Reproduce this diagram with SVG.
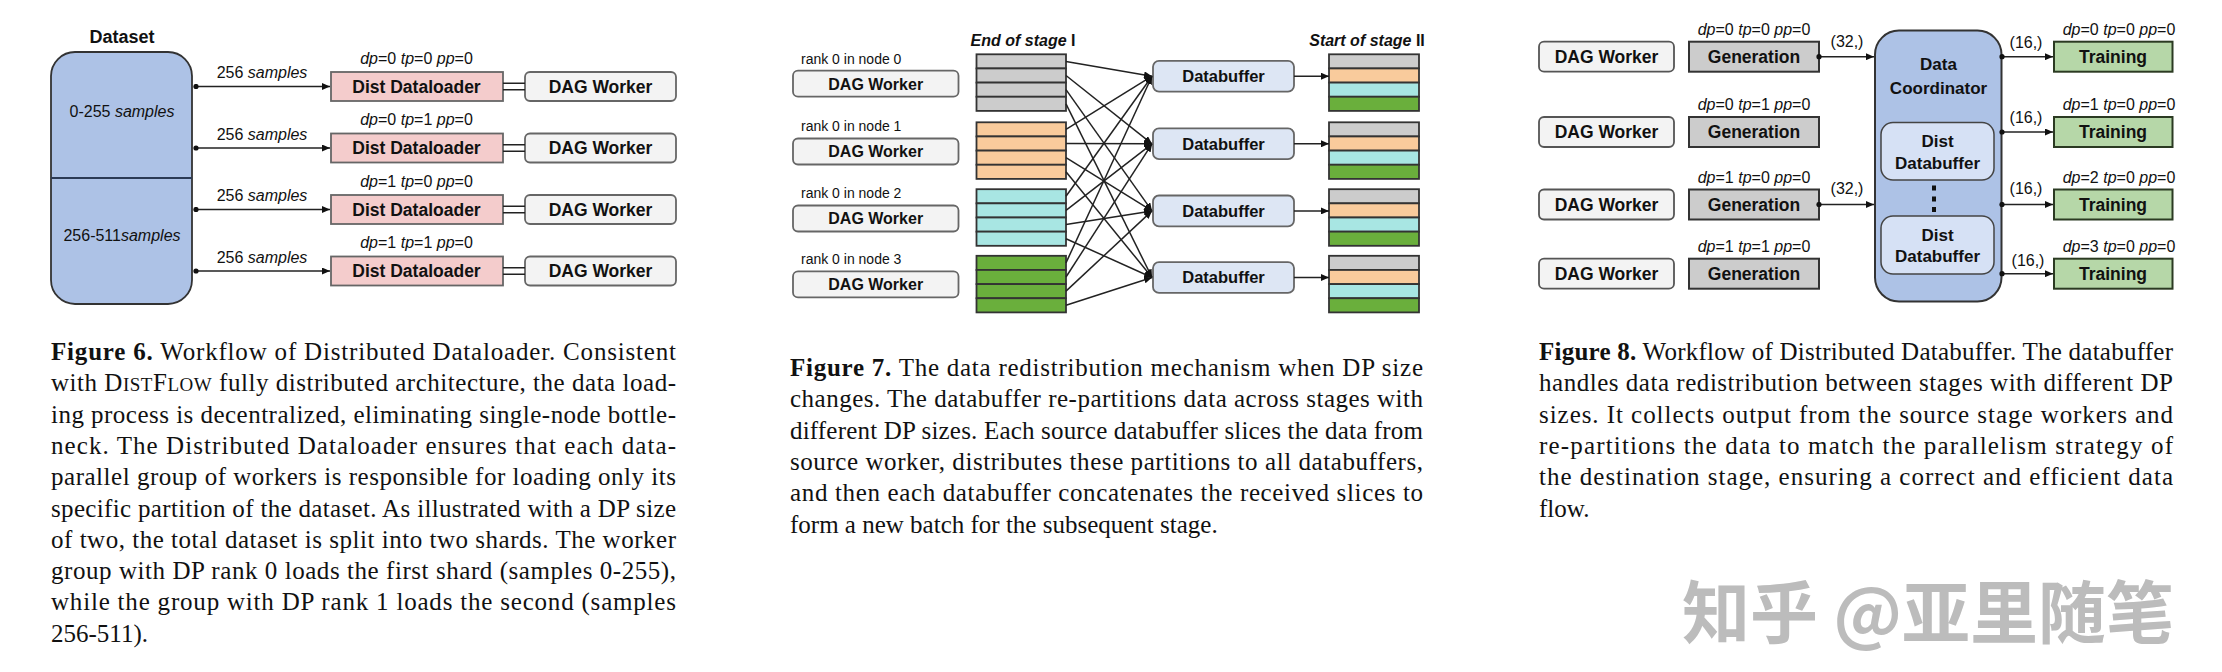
<svg xmlns="http://www.w3.org/2000/svg" width="2222" height="672" viewBox="0 0 2222 672">
<defs>
<style>
.s{font-family:"Liberation Sans",Arial,sans-serif;fill:#111}
.b{font-weight:bold}
.i{font-style:italic}
.cap{font-family:"Liberation Serif","Times New Roman",serif;font-size:25px;fill:#111}
.ln{stroke:#222;stroke-width:1.5;fill:none}
.box{stroke-width:1.8}
</style>
<marker id="ah" viewBox="0 0 8 7" refX="8" refY="3.5" markerWidth="8" markerHeight="7" markerUnits="userSpaceOnUse" orient="auto"><path d="M0,0 L8,3.5 L0,7 z" fill="#111"/></marker>
<marker id="dot" viewBox="0 0 6 6" refX="3" refY="3" markerWidth="6" markerHeight="6" markerUnits="userSpaceOnUse"><circle cx="3" cy="3" r="2.6" fill="#111"/></marker>
</defs>
<rect width="2222" height="672" fill="#fff"/>

<!-- ===== Figure 6 ===== -->
<g id="fig6">
<g id="dataset">
<text class="s b" x="122" y="43" font-size="18" text-anchor="middle">Dataset</text>
<rect x="51" y="52" width="141" height="252" rx="24" fill="#adc2e6" stroke="#333" stroke-width="1.8"/>
<line x1="51" y1="178" x2="192" y2="178" stroke="#2b3a55" stroke-width="2.2"/>
<text class="s" x="122" y="117" font-size="16" text-anchor="middle">0-255 <tspan class="i">samples</tspan></text>
<text class="s" x="122" y="241" font-size="16" text-anchor="middle">256-511<tspan class="i">samples</tspan></text>
</g>
<g id="f6-loaders">
<g id="dl0"><text class="s i" x="416.5" y="63.5" font-size="16" text-anchor="middle">dp<tspan font-style="normal">=0 </tspan>tp<tspan font-style="normal">=0 </tspan>pp<tspan font-style="normal">=0</tspan></text><rect class="box" x="331" y="72" width="172" height="29" fill="#f4cccc" stroke="#666"/><text class="s b" x="416.5" y="92.5" font-size="17.5" text-anchor="middle">Dist Dataloader</text></g>
<g id="dl1"><text class="s i" x="416.5" y="125" font-size="16" text-anchor="middle">dp<tspan font-style="normal">=0 </tspan>tp<tspan font-style="normal">=1 </tspan>pp<tspan font-style="normal">=0</tspan></text><rect class="box" x="331" y="133.5" width="172" height="29" fill="#f4cccc" stroke="#666"/><text class="s b" x="416.5" y="154" font-size="17.5" text-anchor="middle">Dist Dataloader</text></g>
<g id="dl2"><text class="s i" x="416.5" y="186.5" font-size="16" text-anchor="middle">dp<tspan font-style="normal">=1 </tspan>tp<tspan font-style="normal">=0 </tspan>pp<tspan font-style="normal">=0</tspan></text><rect class="box" x="331" y="195" width="172" height="29" fill="#f4cccc" stroke="#666"/><text class="s b" x="416.5" y="215.5" font-size="17.5" text-anchor="middle">Dist Dataloader</text></g>
<g id="dl3"><text class="s i" x="416.5" y="248" font-size="16" text-anchor="middle">dp<tspan font-style="normal">=1 </tspan>tp<tspan font-style="normal">=1 </tspan>pp<tspan font-style="normal">=0</tspan></text><rect class="box" x="331" y="256.5" width="172" height="29" fill="#f4cccc" stroke="#666"/><text class="s b" x="416.5" y="277" font-size="17.5" text-anchor="middle">Dist Dataloader</text></g>
</g>
<g id="f6-workers">
<g id="f6w0"><rect class="box" x="525" y="72" width="151" height="29" rx="5" fill="#f3f3f3" stroke="#666"/><text class="s b" x="600.5" y="92.5" font-size="17.5" text-anchor="middle">DAG Worker</text></g>
<g id="f6w1"><rect class="box" x="525" y="133.5" width="151" height="29" rx="5" fill="#f3f3f3" stroke="#666"/><text class="s b" x="600.5" y="154" font-size="17.5" text-anchor="middle">DAG Worker</text></g>
<g id="f6w2"><rect class="box" x="525" y="195" width="151" height="29" rx="5" fill="#f3f3f3" stroke="#666"/><text class="s b" x="600.5" y="215.5" font-size="17.5" text-anchor="middle">DAG Worker</text></g>
<g id="f6w3"><rect class="box" x="525" y="256.5" width="151" height="29" rx="5" fill="#f3f3f3" stroke="#666"/><text class="s b" x="600.5" y="277" font-size="17.5" text-anchor="middle">DAG Worker</text></g>
</g>
<g id="f6-connectors">
<line class="ln" x1="196" y1="86.5" x2="330" y2="86.5" marker-start="url(#dot)" marker-end="url(#ah)"/>
<line class="ln" x1="196" y1="148" x2="330" y2="148" marker-start="url(#dot)" marker-end="url(#ah)"/>
<line class="ln" x1="196" y1="209.5" x2="330" y2="209.5" marker-start="url(#dot)" marker-end="url(#ah)"/>
<line class="ln" x1="196" y1="271" x2="330" y2="271" marker-start="url(#dot)" marker-end="url(#ah)"/>
<text class="s" x="262" y="78" font-size="16" text-anchor="middle">256 <tspan class="i">samples</tspan></text>
<text class="s" x="262" y="139.5" font-size="16" text-anchor="middle">256 <tspan class="i">samples</tspan></text>
<text class="s" x="262" y="201" font-size="16" text-anchor="middle">256 <tspan class="i">samples</tspan></text>
<text class="s" x="262" y="262.5" font-size="16" text-anchor="middle">256 <tspan class="i">samples</tspan></text>
<path class="ln" d="M503,83.3H525M503,89.7H525M503,144.8H525M503,151.2H525M503,206.3H525M503,212.7H525M503,267.8H525M503,274.2H525"/>
</g>
<g id="cap6" class="cap">
<text x="51" y="360" textLength="625" lengthAdjust="spacing"><tspan font-weight="bold">Figure 6.</tspan> Workflow of Distributed Dataloader. Consistent</text>
<text x="51" y="391.3" textLength="625" lengthAdjust="spacing">with D<tspan font-size="19">IST</tspan>F<tspan font-size="19">LOW</tspan> fully distributed architecture, the data load-</text>
<text x="51" y="422.6" textLength="625" lengthAdjust="spacing">ing process is decentralized, eliminating single-node bottle-</text>
<text x="51" y="453.9" textLength="625" lengthAdjust="spacing">neck. The Distributed Dataloader ensures that each data-</text>
<text x="51" y="485.2" textLength="625" lengthAdjust="spacing">parallel group of workers is responsible for loading only its</text>
<text x="51" y="516.5" textLength="625" lengthAdjust="spacing">specific partition of the dataset. As illustrated with a DP size</text>
<text x="51" y="547.8" textLength="625" lengthAdjust="spacing">of two, the total dataset is split into two shards. The worker</text>
<text x="51" y="579.1" textLength="625" lengthAdjust="spacing">group with DP rank 0 loads the first shard (samples 0-255),</text>
<text x="51" y="610.4" textLength="625" lengthAdjust="spacing">while the group with DP rank 1 loads the second (samples</text>
<text x="51" y="641.7">256-511).</text>
</g>
</g>

<!-- ===== Figure 7 ===== -->
<g id="fig7">
<text class="s b i" x="1023" y="46" font-size="16" text-anchor="middle">End of stage <tspan font-style="normal">I</tspan></text>
<text class="s b i" x="1367" y="46" font-size="16" text-anchor="middle">Start of stage <tspan font-style="normal">II</tspan></text>
<g id="f7-workers">
<g id="f7w0"><text class="s" x="801" y="63.8" font-size="14">rank 0 in node 0</text><rect class="box" x="793" y="70.7" width="165.5" height="26" rx="5" fill="#f3f3f3" stroke="#666"/><text class="s b" x="875.7" y="89.5" font-size="16" text-anchor="middle">DAG Worker</text></g>
<g id="f7w1"><text class="s" x="801" y="131" font-size="14">rank 0 in node 1</text><rect class="box" x="793" y="138.5" width="165.5" height="26" rx="5" fill="#f3f3f3" stroke="#666"/><text class="s b" x="875.7" y="157.3" font-size="16" text-anchor="middle">DAG Worker</text></g>
<g id="f7w2"><text class="s" x="801" y="197.8" font-size="14">rank 0 in node 2</text><rect class="box" x="793" y="205.5" width="165.5" height="26" rx="5" fill="#f3f3f3" stroke="#666"/><text class="s b" x="875.7" y="224.3" font-size="16" text-anchor="middle">DAG Worker</text></g>
<g id="f7w3"><text class="s" x="801" y="264" font-size="14">rank 0 in node 3</text><rect class="box" x="793" y="271.4" width="165.5" height="26" rx="5" fill="#f3f3f3" stroke="#666"/><text class="s b" x="875.7" y="290.2" font-size="16" text-anchor="middle">DAG Worker</text></g>
</g>
<g id="f7-src" stroke="#333" stroke-width="1.8">
<g id="src0" fill="#cccccc"><rect x="976.5" y="54.3" width="89.5" height="14.15"/><rect x="976.5" y="68.45" width="89.5" height="14.15"/><rect x="976.5" y="82.6" width="89.5" height="14.15"/><rect x="976.5" y="96.75" width="89.5" height="14.15"/></g>
<g id="src1" fill="#f9cb9c"><rect x="976.5" y="122.3" width="89.5" height="14.15"/><rect x="976.5" y="136.45" width="89.5" height="14.15"/><rect x="976.5" y="150.6" width="89.5" height="14.15"/><rect x="976.5" y="164.75" width="89.5" height="14.15"/></g>
<g id="src2" fill="#a8e6e3"><rect x="976.5" y="189.2" width="89.5" height="14.15"/><rect x="976.5" y="203.35" width="89.5" height="14.15"/><rect x="976.5" y="217.5" width="89.5" height="14.15"/><rect x="976.5" y="231.65" width="89.5" height="14.15"/></g>
<g id="src3" fill="#6aaf3c"><rect x="976.5" y="255.8" width="89.5" height="14.15"/><rect x="976.5" y="269.95" width="89.5" height="14.15"/><rect x="976.5" y="284.1" width="89.5" height="14.15"/><rect x="976.5" y="298.25" width="89.5" height="14.15"/></g>
</g>
<g id="f7-buffers">
<g id="db0"><rect class="box" x="1153" y="60.8" width="141" height="30.8" rx="6" fill="#dde6f4" stroke="#666"/><text class="s b" x="1223.5" y="82" font-size="16.5" text-anchor="middle">Databuffer</text></g>
<g id="db1"><rect class="box" x="1153" y="128.4" width="141" height="30.8" rx="6" fill="#dde6f4" stroke="#666"/><text class="s b" x="1223.5" y="149.6" font-size="16.5" text-anchor="middle">Databuffer</text></g>
<g id="db2"><rect class="box" x="1153" y="195.5" width="141" height="30.8" rx="6" fill="#dde6f4" stroke="#666"/><text class="s b" x="1223.5" y="216.7" font-size="16.5" text-anchor="middle">Databuffer</text></g>
<g id="db3"><rect class="box" x="1153" y="262.1" width="141" height="30.8" rx="6" fill="#dde6f4" stroke="#666"/><text class="s b" x="1223.5" y="283.3" font-size="16.5" text-anchor="middle">Databuffer</text></g>
</g>
<g id="f7-dst" stroke="#333" stroke-width="1.8">
<g id="dst0"><rect x="1329" y="54.3" width="90" height="14.15" fill="#cccccc"/><rect x="1329" y="68.45" width="90" height="14.15" fill="#f9cb9c"/><rect x="1329" y="82.6" width="90" height="14.15" fill="#a8e6e3"/><rect x="1329" y="96.75" width="90" height="14.15" fill="#6aaf3c"/></g>
<g id="dst1"><rect x="1329" y="122.3" width="90" height="14.15" fill="#cccccc"/><rect x="1329" y="136.45" width="90" height="14.15" fill="#f9cb9c"/><rect x="1329" y="150.6" width="90" height="14.15" fill="#a8e6e3"/><rect x="1329" y="164.75" width="90" height="14.15" fill="#6aaf3c"/></g>
<g id="dst2"><rect x="1329" y="189.2" width="90" height="14.15" fill="#cccccc"/><rect x="1329" y="203.35" width="90" height="14.15" fill="#f9cb9c"/><rect x="1329" y="217.5" width="90" height="14.15" fill="#a8e6e3"/><rect x="1329" y="231.65" width="90" height="14.15" fill="#6aaf3c"/></g>
<g id="dst3"><rect x="1329" y="255.8" width="90" height="14.15" fill="#cccccc"/><rect x="1329" y="269.95" width="90" height="14.15" fill="#f9cb9c"/><rect x="1329" y="284.1" width="90" height="14.15" fill="#a8e6e3"/><rect x="1329" y="298.25" width="90" height="14.15" fill="#6aaf3c"/></g>
</g>
<g id="f7-connectors" class="ln">
<line x1="1066" y1="61.4" x2="1152" y2="76.2" marker-end="url(#ah)"/>
<line x1="1066" y1="75.5" x2="1152" y2="143.8" marker-end="url(#ah)"/>
<line x1="1066" y1="89.6" x2="1152" y2="210.9" marker-end="url(#ah)"/>
<line x1="1066" y1="103.8" x2="1152" y2="277.5" marker-end="url(#ah)"/>
<line x1="1066" y1="129.4" x2="1152" y2="76.2" marker-end="url(#ah)"/>
<line x1="1066" y1="143.5" x2="1152" y2="143.8" marker-end="url(#ah)"/>
<line x1="1066" y1="157.7" x2="1152" y2="210.9" marker-end="url(#ah)"/>
<line x1="1066" y1="171.8" x2="1152" y2="277.5" marker-end="url(#ah)"/>
<line x1="1066" y1="196.3" x2="1152" y2="76.2" marker-end="url(#ah)"/>
<line x1="1066" y1="210.4" x2="1152" y2="143.8" marker-end="url(#ah)"/>
<line x1="1066" y1="224.5" x2="1152" y2="210.9" marker-end="url(#ah)"/>
<line x1="1066" y1="238.7" x2="1152" y2="277.5" marker-end="url(#ah)"/>
<line x1="1066" y1="262.9" x2="1152" y2="76.2" marker-end="url(#ah)"/>
<line x1="1066" y1="277.0" x2="1152" y2="143.8" marker-end="url(#ah)"/>
<line x1="1066" y1="291.1" x2="1152" y2="210.9" marker-end="url(#ah)"/>
<line x1="1066" y1="305.3" x2="1152" y2="277.5" marker-end="url(#ah)"/>
<line x1="1294" y1="76.2" x2="1329" y2="76.2" marker-end="url(#ah)"/>
<line x1="1294" y1="143.8" x2="1329" y2="143.8" marker-end="url(#ah)"/>
<line x1="1294" y1="210.9" x2="1329" y2="210.9" marker-end="url(#ah)"/>
<line x1="1294" y1="277.5" x2="1329" y2="277.5" marker-end="url(#ah)"/>
</g>
<g id="cap7" class="cap">
<text x="790" y="376" textLength="633" lengthAdjust="spacing"><tspan font-weight="bold">Figure 7.</tspan> The data redistribution mechanism when DP size</text>
<text x="790" y="407.3" textLength="633" lengthAdjust="spacing">changes. The databuffer re-partitions data across stages with</text>
<text x="790" y="438.6" textLength="633" lengthAdjust="spacing">different DP sizes. Each source databuffer slices the data from</text>
<text x="790" y="469.9" textLength="633" lengthAdjust="spacing">source worker, distributes these partitions to all databuffers,</text>
<text x="790" y="501.2" textLength="633" lengthAdjust="spacing">and then each databuffer concatenates the received slices to</text>
<text x="790" y="532.5">form a new batch for the subsequent stage.</text>
</g>
</g>

<!-- ===== Figure 8 ===== -->
<g id="fig8">
<g id="f8-workers">
<g id="f8w0"><rect class="box" x="1539" y="41.7" width="135" height="30" rx="5" fill="#f3f3f3" stroke="#555"/><text class="s b" x="1606.5" y="63" font-size="17.5" text-anchor="middle">DAG Worker</text></g>
<g id="f8w1"><rect class="box" x="1539" y="117" width="135" height="30" rx="5" fill="#f3f3f3" stroke="#555"/><text class="s b" x="1606.5" y="138.3" font-size="17.5" text-anchor="middle">DAG Worker</text></g>
<g id="f8w2"><rect class="box" x="1539" y="189.5" width="135" height="30" rx="5" fill="#f3f3f3" stroke="#555"/><text class="s b" x="1606.5" y="210.8" font-size="17.5" text-anchor="middle">DAG Worker</text></g>
<g id="f8w3"><rect class="box" x="1539" y="258.7" width="135" height="30" rx="5" fill="#f3f3f3" stroke="#555"/><text class="s b" x="1606.5" y="280" font-size="17.5" text-anchor="middle">DAG Worker</text></g>
</g>
<g id="f8-gen">
<g id="gen0"><text class="s i" x="1754" y="35" font-size="16" text-anchor="middle">dp<tspan font-style="normal">=0 </tspan>tp<tspan font-style="normal">=0 </tspan>pp<tspan font-style="normal">=0</tspan></text><rect x="1689" y="41.7" width="130" height="30" fill="#cccccc" stroke="#333" stroke-width="2"/><text class="s b" x="1754" y="63" font-size="17.5" text-anchor="middle">Generation</text></g>
<g id="gen1"><text class="s i" x="1754" y="110" font-size="16" text-anchor="middle">dp<tspan font-style="normal">=0 </tspan>tp<tspan font-style="normal">=1 </tspan>pp<tspan font-style="normal">=0</tspan></text><rect x="1689" y="117" width="130" height="30" fill="#cccccc" stroke="#333" stroke-width="2"/><text class="s b" x="1754" y="138.3" font-size="17.5" text-anchor="middle">Generation</text></g>
<g id="gen2"><text class="s i" x="1754" y="182.5" font-size="16" text-anchor="middle">dp<tspan font-style="normal">=1 </tspan>tp<tspan font-style="normal">=0 </tspan>pp<tspan font-style="normal">=0</tspan></text><rect x="1689" y="189.5" width="130" height="30" fill="#cccccc" stroke="#333" stroke-width="2"/><text class="s b" x="1754" y="210.8" font-size="17.5" text-anchor="middle">Generation</text></g>
<g id="gen3"><text class="s i" x="1754" y="251.7" font-size="16" text-anchor="middle">dp<tspan font-style="normal">=1 </tspan>tp<tspan font-style="normal">=1 </tspan>pp<tspan font-style="normal">=0</tspan></text><rect x="1689" y="258.7" width="130" height="30" fill="#cccccc" stroke="#333" stroke-width="2"/><text class="s b" x="1754" y="280" font-size="17.5" text-anchor="middle">Generation</text></g>
</g>
<g id="coordinator">
<rect x="1875" y="30.6" width="126.5" height="271" rx="24" fill="#adc2e6" stroke="#333" stroke-width="2"/>
<text class="s b" x="1938.5" y="70" font-size="17" text-anchor="middle">Data</text>
<text class="s b" x="1938.5" y="94" font-size="17" text-anchor="middle">Coordinator</text>
<g id="ddb0"><rect x="1881" y="122.5" width="113" height="57.5" rx="12" fill="#d6e1f5" stroke="#444" stroke-width="1.5"/><text class="s b" x="1937.5" y="147.3" font-size="17" text-anchor="middle">Dist</text><text class="s b" x="1937.5" y="168.5" font-size="17" text-anchor="middle">Databuffer</text></g>
<g id="vdots" fill="#111"><rect x="1932" y="185.5" width="4" height="5"/><rect x="1932" y="196.5" width="4" height="5"/><rect x="1932" y="207" width="4" height="5"/></g>
<g id="ddb1"><rect x="1881" y="216" width="113" height="58" rx="12" fill="#d6e1f5" stroke="#444" stroke-width="1.5"/><text class="s b" x="1937.5" y="240.8" font-size="17" text-anchor="middle">Dist</text><text class="s b" x="1937.5" y="262" font-size="17" text-anchor="middle">Databuffer</text></g>
</g>
<g id="f8-train">
<g id="tr0"><text class="s i" x="2119" y="35" font-size="16" text-anchor="middle">dp<tspan font-style="normal">=0 </tspan>tp<tspan font-style="normal">=0 </tspan>pp<tspan font-style="normal">=0</tspan></text><rect x="2054" y="41.7" width="118.5" height="30" fill="#b6d7a8" stroke="#2b3a22" stroke-width="2"/><text class="s b" x="2113" y="63" font-size="17.5" text-anchor="middle">Training</text></g>
<g id="tr1"><text class="s i" x="2119" y="110" font-size="16" text-anchor="middle">dp<tspan font-style="normal">=1 </tspan>tp<tspan font-style="normal">=0 </tspan>pp<tspan font-style="normal">=0</tspan></text><rect x="2054" y="117" width="118.5" height="30" fill="#b6d7a8" stroke="#2b3a22" stroke-width="2"/><text class="s b" x="2113" y="138.3" font-size="17.5" text-anchor="middle">Training</text></g>
<g id="tr2"><text class="s i" x="2119" y="182.5" font-size="16" text-anchor="middle">dp<tspan font-style="normal">=2 </tspan>tp<tspan font-style="normal">=0 </tspan>pp<tspan font-style="normal">=0</tspan></text><rect x="2054" y="189.5" width="118.5" height="30" fill="#b6d7a8" stroke="#2b3a22" stroke-width="2"/><text class="s b" x="2113" y="210.8" font-size="17.5" text-anchor="middle">Training</text></g>
<g id="tr3"><text class="s i" x="2119" y="251.7" font-size="16" text-anchor="middle">dp<tspan font-style="normal">=3 </tspan>tp<tspan font-style="normal">=0 </tspan>pp<tspan font-style="normal">=0</tspan></text><rect x="2054" y="258.7" width="118.5" height="30" fill="#b6d7a8" stroke="#2b3a22" stroke-width="2"/><text class="s b" x="2113" y="280" font-size="17.5" text-anchor="middle">Training</text></g>
</g>
<g id="f8-connectors">
<line class="ln" x1="1819" y1="56.7" x2="1874" y2="56.7" marker-start="url(#dot)" marker-end="url(#ah)"/>
<line class="ln" x1="1819" y1="204.5" x2="1874" y2="204.5" marker-start="url(#dot)" marker-end="url(#ah)"/>
<text class="s" x="1847" y="46.5" font-size="16" text-anchor="middle">(32,)</text>
<text class="s" x="1847" y="194" font-size="16" text-anchor="middle">(32,)</text>
<line class="ln" x1="2002" y1="56.7" x2="2053" y2="56.7" marker-start="url(#dot)" marker-end="url(#ah)"/>
<line class="ln" x1="2002" y1="132" x2="2053" y2="132" marker-start="url(#dot)" marker-end="url(#ah)"/>
<line class="ln" x1="2002" y1="204.5" x2="2053" y2="204.5" marker-start="url(#dot)" marker-end="url(#ah)"/>
<line class="ln" x1="2002" y1="273.7" x2="2053" y2="273.7" marker-start="url(#dot)" marker-end="url(#ah)"/>
<text class="s" x="2026" y="48" font-size="16" text-anchor="middle">(16,)</text>
<text class="s" x="2026" y="122.5" font-size="16" text-anchor="middle">(16,)</text>
<text class="s" x="2026" y="194" font-size="16" text-anchor="middle">(16,)</text>
<text class="s" x="2028" y="266" font-size="16" text-anchor="middle">(16,)</text>
</g>
<g id="cap8" class="cap">
<text x="1539" y="360" textLength="634" lengthAdjust="spacing"><tspan font-weight="bold">Figure 8.</tspan> Workflow of Distributed Databuffer. The databuffer</text>
<text x="1539" y="391.3" textLength="634" lengthAdjust="spacing">handles data redistribution between stages with different DP</text>
<text x="1539" y="422.6" textLength="634" lengthAdjust="spacing">sizes. It collects output from the source stage workers and</text>
<text x="1539" y="453.9" textLength="634" lengthAdjust="spacing">re-partitions the data to match the parallelism strategy of</text>
<text x="1539" y="485.2" textLength="634" lengthAdjust="spacing">the destination stage, ensuring a correct and efficient data</text>
<text x="1539" y="516.5">flow.</text>
</g>
<text id="watermark" x="1928" y="638" font-family="'Noto Sans CJK SC',sans-serif" font-size="68" font-weight="bold" fill="#bcbcbc" text-anchor="middle">知乎 @亚里随笔</text>
</g>
</svg>
